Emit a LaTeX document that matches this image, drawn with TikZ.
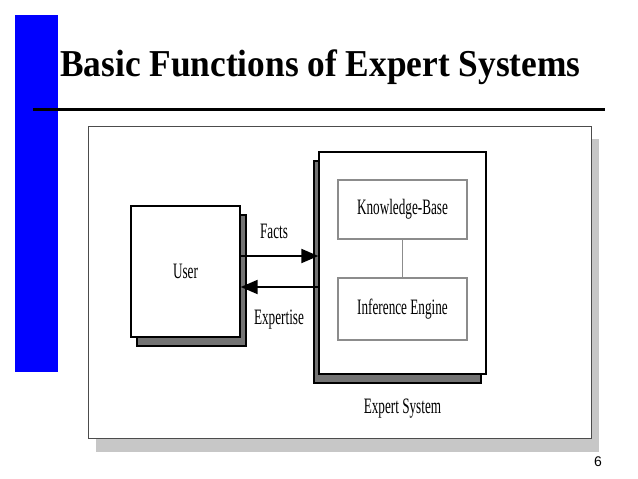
\documentclass[tikz,border=0pt]{standalone}
\usepackage{fontspec}
\setmainfont{Liberation Serif}
\newfontfamily\titlefont[FakeStretch=0.93]{Liberation Serif}
\newfontfamily\diagfont[FakeStretch=0.6]{Liberation Serif}
\newfontfamily\numfont{Liberation Sans}
\usetikzlibrary{arrows.meta, shadows, positioning}

\begin{document}
\begin{tikzpicture}[
    x=1pt, y=-1pt,
    box/.style={rectangle, draw, line width=1.4pt, fill=white, inner sep=0pt, font=\diagfont\fontsize{22}{24}\selectfont},
    userbox/.style={box, minimum width=109pt, minimum height=131pt,
        drop shadow={shadow xshift=6pt, shadow yshift=-9pt, fill=black!55, draw=black, line width=1.4pt, opacity=1}},
    sysbox/.style={box, minimum width=167pt, minimum height=222pt,
        drop shadow={shadow xshift=-5pt, shadow yshift=-9pt, fill=black!55, draw=black, line width=1.4pt, opacity=1}},
    partbox/.style={box, draw=black!45, line width=1.2pt, minimum width=129pt},
    lbl/.style={font=\diagfont\fontsize{22}{24}\selectfont, inner sep=0pt},
    arr/.style={-{Triangle[length=17pt, width=14pt]}, line width=2pt},
]
\useasboundingbox (0,0) rectangle (638,479);

% Slide
\fill[blue] (15,15) rectangle (58,372);
\node[anchor=base west, inner sep=0pt, font=\titlefont\bfseries\fontsize{38}{40}\selectfont] (title) at (60,76) {Basic Functions of Expert Systems};
\draw[line width=3pt] (33,109) -- (605,109);
\fill[black!22] (96,139) rectangle (599,452);
\draw[fill=white, draw=black!70, line width=0.8pt] (88,126) rectangle (591,438);

% Nodes
\node[userbox] (user) at (185.5,271.5) {User};
\node[sysbox] (es) at (402.5,263) {};
\node[partbox, minimum height=59pt] (kb) at (402.5,209.5) {Knowledge-Base};
\node[partbox, minimum height=62pt] (ie) at (402.5,309) {Inference Engine};
\node[lbl, below=24pt of es] (eslbl) {Expert System};

% Arrows
\draw[black!45, line width=1.2pt] (kb) -- (ie);
\draw[arr] ([yshift=15.5pt]user.east) coordinate (f) -- (f -| es.west);
\draw[arr] ([yshift=-15.5pt]user.east -| es.west) coordinate (e) -- (e -| user.east);
\node[lbl] (facts) at (274,231) {Facts};
\node[lbl] (exp) at (279,320) {Expertise};

\node[font=\numfont\fontsize{14}{16}\selectfont, inner sep=0pt] (page) at (598,462) {6};
\end{tikzpicture}
\end{document}
